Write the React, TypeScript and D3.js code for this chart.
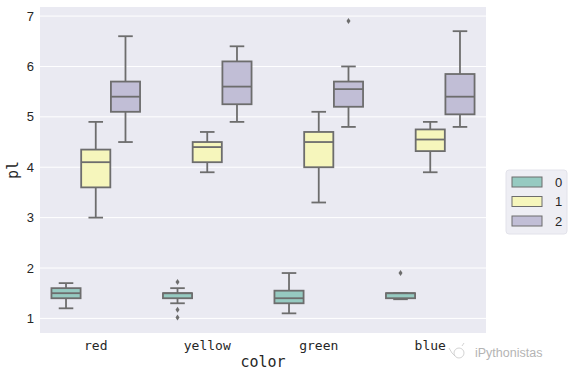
import React from "react";
import * as d3 from "d3";

const categories = ["red", "yellow", "green", "blue"];
const hues = ["0", "1", "2"];
const hueColors = ["#96cac1", "#f6f6bc", "#c1bed6"];
const yTicks = [1, 2, 3, 4, 5, 6, 7];

// [whiskerLow, q1, median, q3, whiskerHigh] per category
const hue0Stats = [
  [1.2, 1.4, 1.5, 1.6, 1.7],
  [1.3, 1.4, 1.5, 1.5, 1.6],
  [1.1, 1.3, 1.4, 1.55, 1.9],
  [1.38, 1.4, 1.5, 1.5, 1.5],
];
const hue1Stats = [
  [3.0, 3.6, 4.1, 4.35, 4.9],
  [3.9, 4.1, 4.4, 4.5, 4.7],
  [3.3, 4.0, 4.5, 4.7, 5.1],
  [3.9, 4.32, 4.55, 4.75, 4.9],
];
const hue2Stats = [
  [4.5, 5.1, 5.4, 5.7, 6.6],
  [4.9, 5.25, 5.6, 6.1, 6.4],
  [4.8, 5.2, 5.55, 5.7, 6.0],
  [4.8, 5.05, 5.4, 5.85, 6.7],
];
const hue0Outliers = [[], [1.72, 1.17, 1.02], [], [1.9]];
const hue1Outliers = [[], [], [], []];
const hue2Outliers = [[], [], [6.9], []];

const allStats = [hue0Stats, hue1Stats, hue2Stats];
const allOutliers = [hue0Outliers, hue1Outliers, hue2Outliers];

export default function App() {
  const W = 575, H = 377;
  const left = 40, right = 486, top = 7, bottom = 333;
  const x = d3.scaleBand().domain(categories).range([left, right]).paddingInner(0).paddingOuter(0);
  const y = d3.scaleLinear().domain([0.71, 7.18]).range([bottom, top]);
  const hueScale = d3.scaleBand().domain(hues).range([0, x.bandwidth() * 0.8]);
  const boxW = hueScale.bandwidth() * 0.98;
  const offset = x.bandwidth() * 0.1;
  const lineColor = "#6d6d6d";
  const lw = 1.8;

  return (
    <svg width={W} height={H} style={{ position: "absolute", left: 0, top: 0, background: "#fff" }}>
      <rect x={left} y={top} width={right - left} height={bottom - top} fill="#eaeaf2" />
      {yTicks.map((t) => (
        <g key={t}>
          <line x1={left} x2={right} y1={y(t)} y2={y(t)} stroke="#fff" strokeWidth={1} />
          <text x={34} y={y(t)} dy="0.35em" textAnchor="end" fontFamily="Liberation Sans, Arial" fontSize={13} fill="#262626">{t}</text>
        </g>
      ))}
      {categories.map((c, ci) =>
        hues.map((h, hi) => {
          const s = allStats[hi][ci];
          const cx = (x(c) as number) + offset + (hueScale(h) as number) + hueScale.bandwidth() / 2;
          const x0 = cx - boxW / 2;
          const capW = boxW / 2;
          return (
            <g key={c + h}>
              <line x1={cx} x2={cx} y1={y(s[0])} y2={y(s[1])} stroke={lineColor} strokeWidth={lw} />
              <line x1={cx} x2={cx} y1={y(s[3])} y2={y(s[4])} stroke={lineColor} strokeWidth={lw} />
              <line x1={cx - capW / 2} x2={cx + capW / 2} y1={y(s[0])} y2={y(s[0])} stroke={lineColor} strokeWidth={lw} />
              <line x1={cx - capW / 2} x2={cx + capW / 2} y1={y(s[4])} y2={y(s[4])} stroke={lineColor} strokeWidth={lw} />
              <rect x={x0} y={y(s[3])} width={boxW} height={Math.max(0, y(s[1]) - y(s[3]))} fill={hueColors[hi]} stroke={lineColor} strokeWidth={lw} />
              <line x1={x0} x2={x0 + boxW} y1={y(s[2])} y2={y(s[2])} stroke={lineColor} strokeWidth={lw} />
              {allOutliers[hi][ci].map((o, oi) => (
                <path key={oi} d={`M${cx},${y(o) - 3}L${cx + 2},${y(o)}L${cx},${y(o) + 3}L${cx - 2},${y(o)}Z`} fill={lineColor} />
              ))}
            </g>
          );
        })
      )}
      {categories.map((c) => (
        <text key={c} x={(x(c) as number) + x.bandwidth() / 2} y={350} textAnchor="middle" fontFamily="DejaVu Sans Mono, monospace" fontSize={13} fill="#262626">{c}</text>
      ))}
      <text x={263} y={367} textAnchor="middle" fontFamily="DejaVu Sans Mono, monospace" fontSize={15} fill="#262626">color</text>
      <text transform="translate(18,170) rotate(-90)" textAnchor="middle" fontFamily="DejaVu Sans Mono, monospace" fontSize={15} fill="#262626">pl</text>
      <rect x={506} y={170} width={61} height={64} rx={3} fill="#eeeef4" stroke="#e2e2ea" strokeWidth={1} />
      {hues.map((h, i) => (
        <g key={h}>
          <rect x={512} y={177 + i * 19.5} width={30} height={10} fill={hueColors[i]} stroke={lineColor} strokeWidth={1} />
          <text x={555} y={182 + i * 19.5} dy="0.35em" fontFamily="Liberation Sans, Arial" fontSize={13} fill="#262626">{h}</text>
        </g>
      ))}
      <g stroke="#c8c8c8" fill="none" strokeWidth={0.8}>
        <circle cx={459} cy={353} r={5} />
        <path d="M449,348 q3,6 6,8 M462,346 l2,-3" />
      </g>
      <text x={475} y={357} fontFamily="Liberation Sans, Arial" fontSize={12.5} fill="#b4b4b4">iPythonistas</text>
    </svg>
  );
}
